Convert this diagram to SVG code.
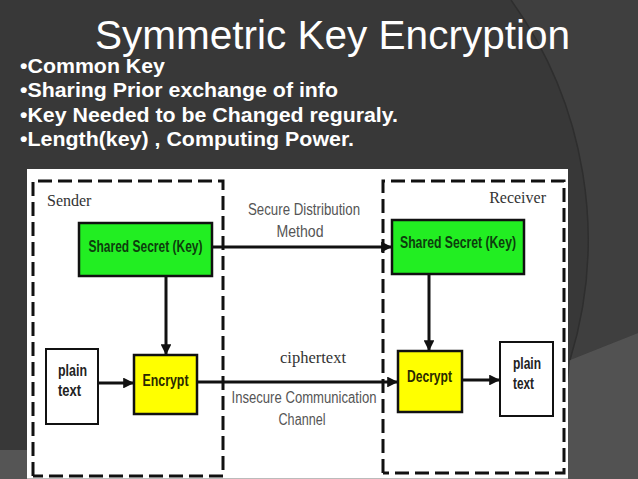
<svg xmlns="http://www.w3.org/2000/svg" width="638" height="479" viewBox="0 0 638 479">
<defs>
<style>
.title{font-family:"Liberation Sans",Arial,sans-serif;font-size:40px;fill:#ffffff}
.bul{font-family:"Liberation Sans",Arial,sans-serif;font-size:21px;font-weight:bold;fill:#ffffff}
.dash{fill:none;stroke:#111;stroke-width:3;stroke-dasharray:14 6}
.box{stroke:#111;stroke-width:2.5}
.lbl{font-family:"Liberation Sans",Arial,sans-serif;font-weight:bold;font-size:17px;text-anchor:middle}
.pt{font-family:"Liberation Sans",Arial,sans-serif;font-weight:bold;font-size:16px;fill:#222}
.serif{font-family:"Liberation Serif","Times New Roman",serif;font-size:16px;fill:#333}
.chan{font-family:"Liberation Sans",Arial,sans-serif;font-size:16px;fill:#555;text-anchor:middle}
.conn{stroke:#111;stroke-width:3;fill:none}
</style>
<marker id="ah" viewBox="0 0 10 10" refX="10" refY="5" markerWidth="3.6" markerHeight="3.6" orient="auto" markerUnits="strokeWidth">
<path d="M0,0 L10,5 L0,10 z" fill="#111"/>
</marker>
</defs>
<!-- background -->
<rect x="0" y="0" width="638" height="479" fill="#383838"/>
<path d="M511,0 A410,410 0 0 1 570,360 L638,333 L638,0 Z" fill="#3f3f3f"/>
<path d="M570,360 L638,333 L638,479 L560,479 Z" fill="#525252"/>
<path d="M511,0 A410,410 0 0 1 570,360" fill="none" stroke="#2e2e2e" stroke-width="1.5"/>
<rect x="0" y="450" width="30" height="29" fill="#555555"/>
<!-- title and bullets -->
<text class="title" x="95" y="49" textLength="475" lengthAdjust="spacingAndGlyphs">Symmetric Key Encryption</text>
<text class="bul" x="20" y="73" textLength="145" lengthAdjust="spacingAndGlyphs">•Common Key</text>
<text class="bul" x="20" y="97" textLength="318" lengthAdjust="spacingAndGlyphs">•Sharing Prior exchange of info</text>
<text class="bul" x="20" y="122" textLength="378" lengthAdjust="spacingAndGlyphs">•Key Needed to be Changed reguraly.</text>
<text class="bul" x="20" y="146" textLength="334" lengthAdjust="spacingAndGlyphs">•Length(key) , Computing Power.</text>
<!-- white picture area -->
<rect x="27" y="169" width="541" height="309" fill="#ffffff"/>
<line x1="27" y1="478.5" x2="568" y2="478.5" stroke="#bbbbbb" stroke-width="1"/>
<g id="sender">
<path class="dash" d="M33,476 V181 H223 V476 H33"/>
<text class="serif" x="47" y="206">Sender</text>
</g>
<g id="receiver">
<path class="dash" d="M383,473 V181 H564 V473 H383"/>
<text class="serif" x="546" y="203" text-anchor="end">Receiver</text>
</g>
<g id="sender-key">
<rect class="box" x="79" y="223" width="133" height="53" fill="#22ee22"/>
<text class="lbl" x="145.5" y="252" fill="#0d3d0d" textLength="114" lengthAdjust="spacingAndGlyphs">Shared Secret (Key)</text>
</g>
<g id="receiver-key">
<rect class="box" x="392" y="220" width="132" height="54" fill="#22ee22"/>
<text class="lbl" x="458" y="248" fill="#0d3d0d" textLength="116" lengthAdjust="spacingAndGlyphs">Shared Secret (Key)</text>
</g>
<g id="encrypt">
<rect class="box" x="134" y="355" width="63" height="59" fill="#ffff00"/>
<text class="lbl" x="165.5" y="386" fill="#2a2a00" textLength="46" lengthAdjust="spacingAndGlyphs">Encrypt</text>
</g>
<g id="decrypt">
<rect class="box" x="398" y="351" width="64" height="61" fill="#ffff00"/>
<text class="lbl" x="429.5" y="382" fill="#2a2a00" textLength="45" lengthAdjust="spacingAndGlyphs">Decrypt</text>
</g>
<g id="plain-sender">
<rect x="46" y="349" width="52" height="75" fill="#ffffff" stroke="#111" stroke-width="2"/>
<text class="pt" x="58" y="376" textLength="29" lengthAdjust="spacingAndGlyphs">plain</text>
<text class="pt" x="58" y="396" textLength="23" lengthAdjust="spacingAndGlyphs">text</text>
</g>
<g id="plain-receiver">
<rect x="500" y="342" width="53" height="74" fill="#ffffff" stroke="#111" stroke-width="2"/>
<text class="pt" x="513" y="369" textLength="28" lengthAdjust="spacingAndGlyphs">plain</text>
<text class="pt" x="513" y="389" textLength="21" lengthAdjust="spacingAndGlyphs">text</text>
</g>
<g id="connectors">
<line class="conn" x1="212" y1="247" x2="392" y2="247" marker-end="url(#ah)"/>
<line class="conn" x1="166" y1="276" x2="166" y2="355" marker-end="url(#ah)"/>
<line class="conn" x1="429" y1="274" x2="429" y2="351" marker-end="url(#ah)"/>
<line class="conn" x1="98" y1="383" x2="134" y2="383" marker-end="url(#ah)"/>
<line class="conn" x1="197" y1="382" x2="398" y2="382" marker-end="url(#ah)"/>
<line class="conn" x1="462" y1="380" x2="500" y2="380" marker-end="url(#ah)"/>
<text class="chan" x="304" y="215" textLength="112" lengthAdjust="spacingAndGlyphs">Secure Distribution</text>
<text class="chan" x="300" y="237" textLength="47" lengthAdjust="spacingAndGlyphs">Method</text>
<text class="serif" x="313" y="363" text-anchor="middle" textLength="66" lengthAdjust="spacingAndGlyphs">ciphertext</text>
<text class="chan" x="304" y="403" textLength="145" lengthAdjust="spacingAndGlyphs">Insecure Communication</text>
<text class="chan" x="302" y="425" textLength="47" lengthAdjust="spacingAndGlyphs">Channel</text>
</g>
</svg>
